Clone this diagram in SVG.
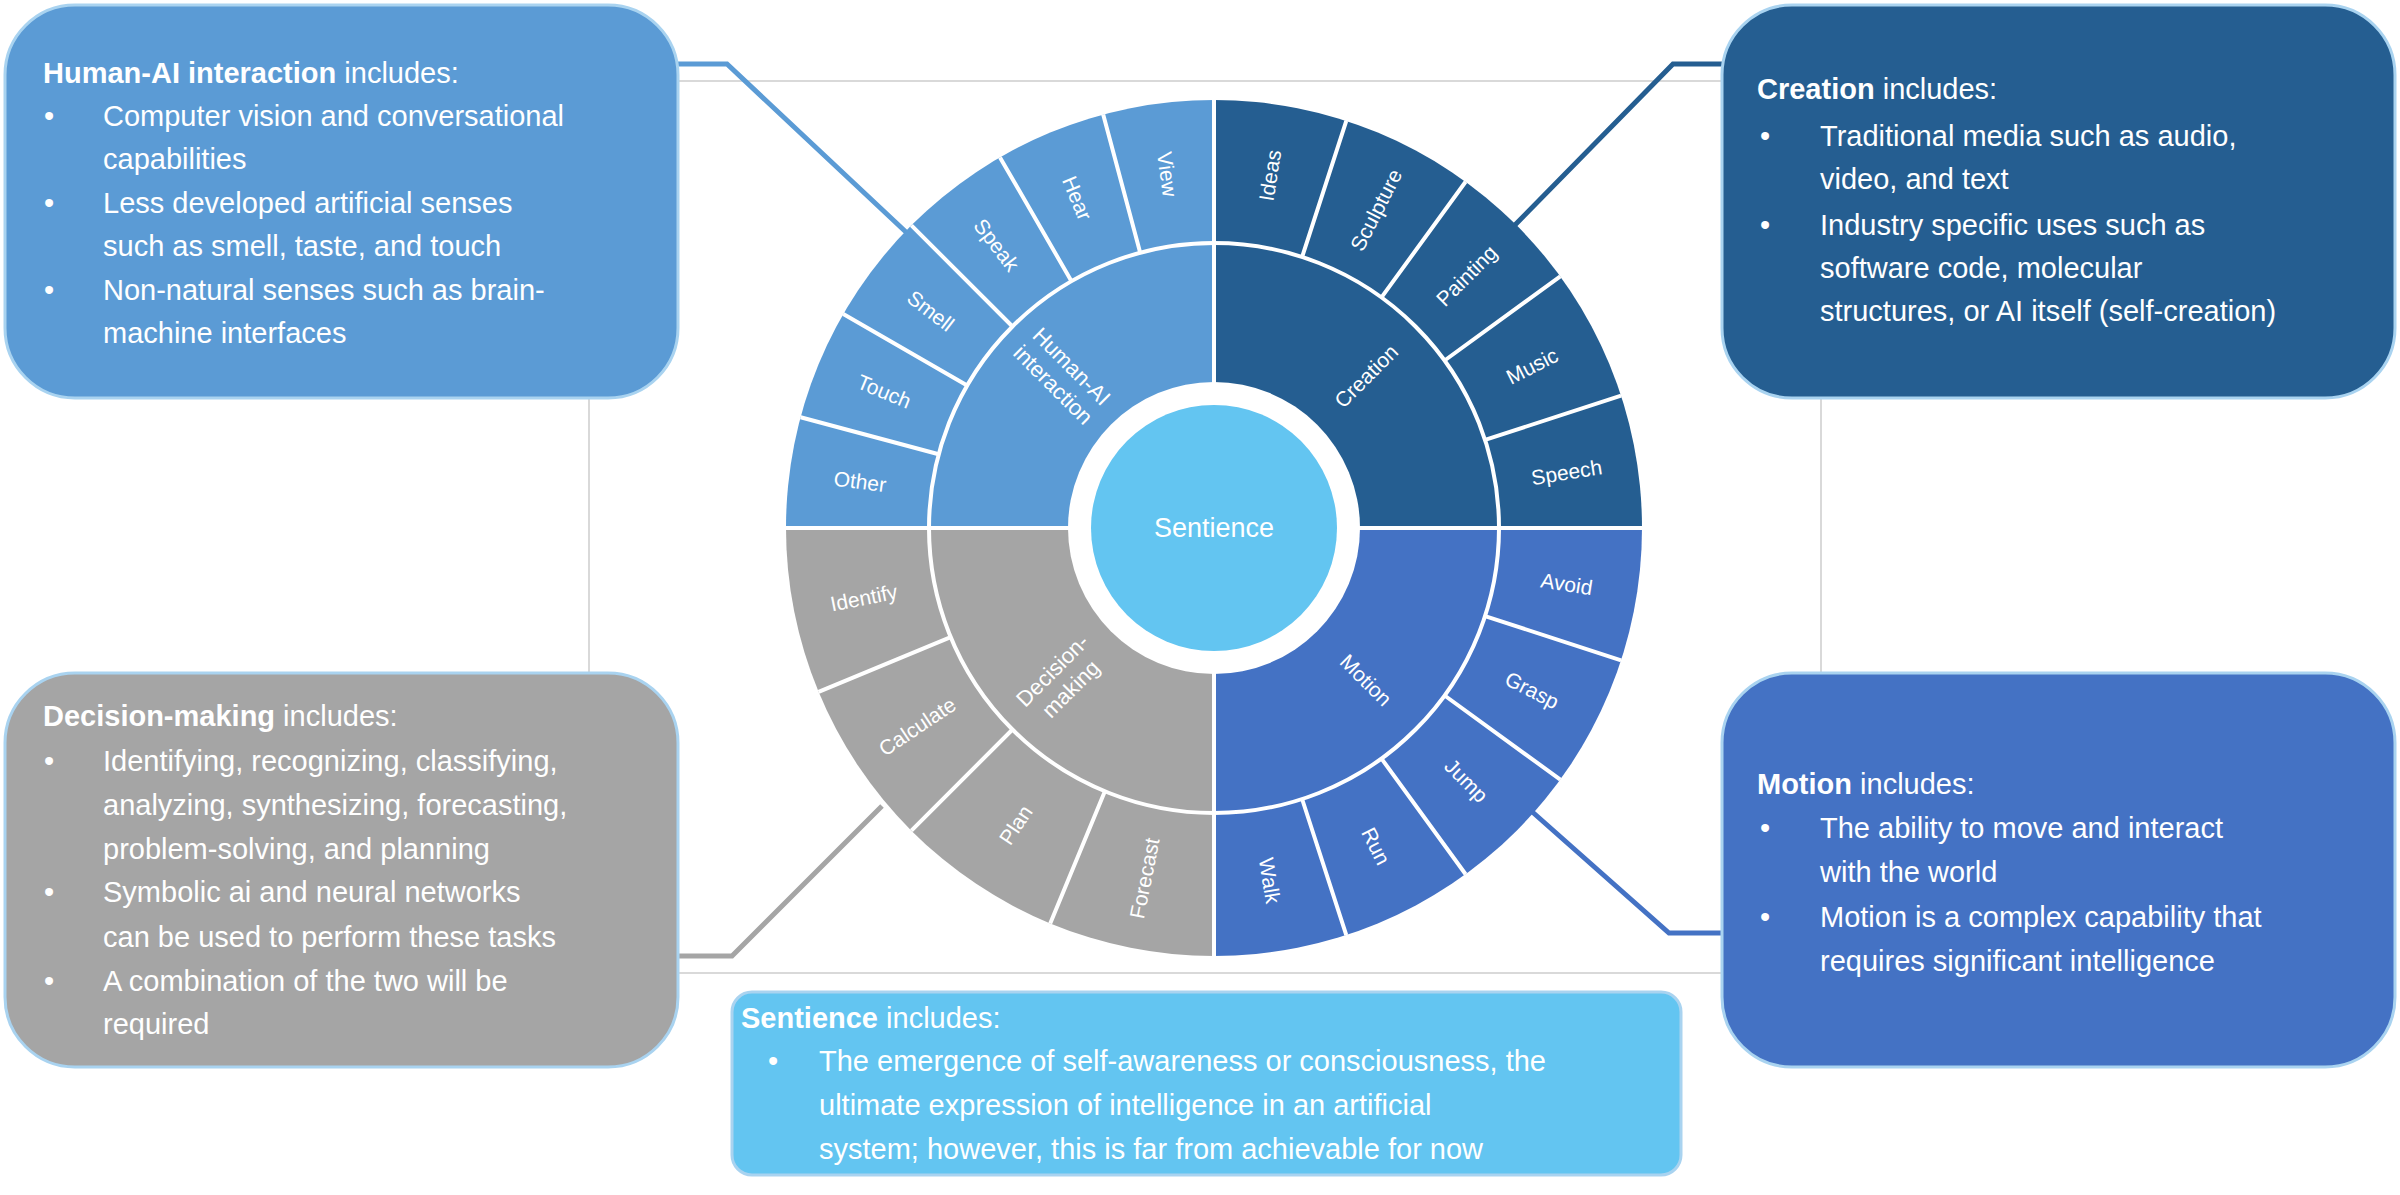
<svg xmlns="http://www.w3.org/2000/svg" width="2400" height="1195" viewBox="0 0 2400 1195">
<style>
text{font-family:"Liberation Sans",Arial,sans-serif;fill:#fff}
.bt{font-size:29px}
.b{font-weight:bold}
.seg{font-size:21px;text-anchor:middle;dominant-baseline:central}
.mid{font-size:22px;text-anchor:middle}
.sep{stroke:#fff;stroke-width:4;fill:none}
.box{stroke:#A9D3F0;stroke-width:3}
.conn{fill:none;stroke-width:5}
</style>
<rect width="2400" height="1195" fill="#fff"/>
<g id="connectors">
<rect x="589" y="81" width="1232" height="892" fill="none" stroke="#D9D9D9" stroke-width="2"/>
<polyline class="conn" stroke="#5B9BD5" points="678,64 727,64 907,233"/>
<polyline class="conn" stroke="#255E91" points="1722,64 1673,64 1512,228"/>
<polyline class="conn" stroke="#4472C4" points="1722,933 1669,933 1529,809"/>
<polyline class="conn" stroke="#A5A5A5" points="678,956 732,956 882,806"/>
</g>
<g id="wheel">
<path d="M1214,528 L786,528 A428,428 0 0 1 1214,100 Z" fill="#5B9BD5"/>
<path d="M1214,528 L1214,100 A428,428 0 0 1 1642,528 Z" fill="#255E91"/>
<path d="M1214,528 L1642,528 A428,428 0 0 1 1214,956 Z" fill="#4472C4"/>
<path d="M1214,528 L1214,956 A428,428 0 0 1 786,528 Z" fill="#A5A5A5"/>
<circle class="sep" cx="1214" cy="528" r="285"/>
<path class="sep" d="M784,528 H1644 M1214,98 V958
M938.7,454.2 L800.6,417.2 M967.2,385.5 L843.3,314 M1012.5,326.5 L911.4,225.4 M1071.5,281.2 L1000,157.4 M1140.2,252.7 L1103.2,114.6
M1302.1,257 L1346.3,120.9 M1381.5,297.4 L1465.6,181.7 M1444.6,360.5 L1560.3,276.4 M1485.1,439.9 L1621.1,395.7
M1485.1,616.1 L1621.1,660.3 M1444.6,695.5 L1560.3,779.6 M1381.5,758.6 L1465.6,874.3 M1302.1,799 L1346.3,935.1
M1104.9,791.3 L1050.2,923.4 M1012.5,729.5 L911.4,830.6 M950.7,637.1 L818.6,691.8"/>
<circle cx="1214" cy="528" r="146" fill="#fff"/>
<circle cx="1214" cy="528" r="123" fill="#63C5F1"/>
<text x="1214" y="537" font-size="27" text-anchor="middle">Sentience</text>
<g class="seg">
<text class="seg" transform="translate(1214 528) rotate(187.5) translate(357 0) rotate(180)">Other</text>
<text class="seg" transform="translate(1214 528) rotate(202.5) translate(357 0) rotate(180)">Touch</text>
<text class="seg" transform="translate(1214 528) rotate(217.5) translate(357 0) rotate(180)">Smell</text>
<text class="seg" transform="translate(1214 528) rotate(232.5) translate(357 0) rotate(180)">Speak</text>
<text class="seg" transform="translate(1214 528) rotate(247.5) translate(357 0) rotate(180)">Hear</text>
<text class="seg" transform="translate(1214 528) rotate(262.5) translate(357 0) rotate(180)">View</text>
<text class="seg" transform="translate(1214 528) rotate(-81) translate(357 0)">Ideas</text>
<text class="seg" transform="translate(1214 528) rotate(-63) translate(357 0)">Sculpture</text>
<text class="seg" transform="translate(1214 528) rotate(-45) translate(357 0)">Painting</text>
<text class="seg" transform="translate(1214 528) rotate(-27) translate(357 0)">Music</text>
<text class="seg" transform="translate(1214 528) rotate(-9) translate(357 0)">Speech</text>
<text class="seg" transform="translate(1214 528) rotate(9) translate(357 0)">Avoid</text>
<text class="seg" transform="translate(1214 528) rotate(27) translate(357 0)">Grasp</text>
<text class="seg" transform="translate(1214 528) rotate(45) translate(357 0)">Jump</text>
<text class="seg" transform="translate(1214 528) rotate(63) translate(357 0)">Run</text>
<text class="seg" transform="translate(1214 528) rotate(81) translate(357 0)">Walk</text>
<text class="seg" transform="translate(1214 528) rotate(101.25) translate(357 0) rotate(180)">Forecast</text>
<text class="seg" transform="translate(1214 528) rotate(123.75) translate(357 0) rotate(180)">Plan</text>
<text class="seg" transform="translate(1214 528) rotate(146.25) translate(357 0) rotate(180)">Calculate</text>
<text class="seg" transform="translate(1214 528) rotate(168.75) translate(357 0) rotate(180)">Identify</text>
</g>
<text class="mid" transform="translate(1214 528) rotate(225) translate(215 0) rotate(180)"><tspan x="0" y="-6">Human-AI</tspan><tspan x="0" y="20">interaction</tspan></text>
<text class="seg" transform="translate(1214 528) rotate(-45) translate(215 0)">Creation</text>
<text class="seg" transform="translate(1214 528) rotate(45) translate(215 0)">Motion</text>
<text class="mid" transform="translate(1214 528) rotate(135) translate(215 0) rotate(180)"><tspan x="0" y="-6">Decision-</tspan><tspan x="0" y="20">making</tspan></text>
</g>
<g id="box-human">
<rect class="box" x="5" y="5" width="673" height="393" rx="70" fill="#5B9BD5"/>
<text class="bt" x="43" y="83"><tspan class="b">Human-AI interaction</tspan> includes:</text>
<text class="bt"><tspan x="44" y="126">•</tspan><tspan x="103" y="126">Computer vision and conversational</tspan><tspan x="103" y="169">capabilities</tspan><tspan x="44" y="213">•</tspan><tspan x="103" y="213">Less developed artificial senses</tspan><tspan x="103" y="256">such as smell, taste, and touch</tspan><tspan x="44" y="300">•</tspan><tspan x="103" y="300">Non-natural senses such as brain-</tspan><tspan x="103" y="343">machine interfaces</tspan></text>
</g>
<g id="box-creation">
<rect class="box" x="1722" y="5" width="673" height="393" rx="70" fill="#255E91"/>
<text class="bt" x="1757" y="99"><tspan class="b">Creation</tspan> includes:</text>
<text class="bt"><tspan x="1760" y="146">•</tspan><tspan x="1820" y="146">Traditional media such as audio,</tspan><tspan x="1820" y="189">video, and text</tspan><tspan x="1760" y="235">•</tspan><tspan x="1820" y="235">Industry specific uses such as</tspan><tspan x="1820" y="278">software code, molecular</tspan><tspan x="1820" y="321">structures, or AI itself (self-creation)</tspan></text>
</g>
<g id="box-decision">
<rect class="box" x="5" y="673" width="673" height="394" rx="70" fill="#A5A5A5"/>
<text class="bt" x="43" y="726"><tspan class="b">Decision-making</tspan> includes:</text>
<text class="bt"><tspan x="44" y="771">•</tspan><tspan x="103" y="771">Identifying, recognizing, classifying,</tspan><tspan x="103" y="815">analyzing, synthesizing, forecasting,</tspan><tspan x="103" y="859">problem-solving, and planning</tspan><tspan x="44" y="902">•</tspan><tspan x="103" y="902">Symbolic ai and neural networks</tspan><tspan x="103" y="947">can be used to perform these tasks</tspan><tspan x="44" y="991">•</tspan><tspan x="103" y="991">A combination of the two will be</tspan><tspan x="103" y="1034">required</tspan></text>
</g>
<g id="box-motion">
<rect class="box" x="1722" y="673" width="673" height="394" rx="70" fill="#4472C4"/>
<text class="bt" x="1757" y="794"><tspan class="b">Motion</tspan> includes:</text>
<text class="bt"><tspan x="1760" y="838">•</tspan><tspan x="1820" y="838">The ability to move and interact</tspan><tspan x="1820" y="882">with the world</tspan><tspan x="1760" y="927">•</tspan><tspan x="1820" y="927">Motion is a complex capability that</tspan><tspan x="1820" y="971">requires significant intelligence</tspan></text>
</g>
<g id="box-sentience">
<rect class="box" x="732" y="992" width="949" height="183" rx="20" fill="#63C5F1"/>
<text class="bt" x="741" y="1028"><tspan class="b">Sentience</tspan> includes:</text>
<text class="bt"><tspan x="768" y="1071">•</tspan><tspan x="819" y="1071">The emergence of self-awareness or consciousness, the</tspan><tspan x="819" y="1115">ultimate expression of intelligence in an artificial</tspan><tspan x="819" y="1159">system; however, this is far from achievable for now</tspan></text>
</g>
</svg>
